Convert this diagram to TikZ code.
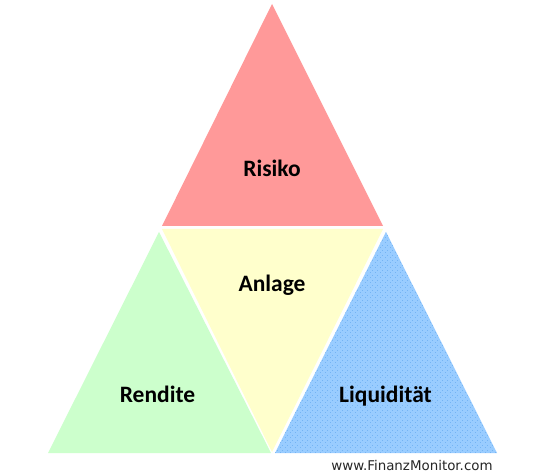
\documentclass[tikz,border=0pt]{standalone}
\usepackage{fontspec}
\setmainfont{Carlito}
\newfontfamily\wmfont{DejaVu Sans}
\usetikzlibrary{patterns.meta}
\definecolor{cred}{HTML}{FF9999}
\definecolor{cyel}{HTML}{FFFFCC}
\definecolor{cgrn}{HTML}{CCFFCC}
\definecolor{cblu}{HTML}{99CCFF}
\definecolor{cdot}{HTML}{74B4F4}
\tikzdeclarepattern{name=bluedots, type=uncolored,
  bottom left={(0pt,0pt)}, top right={(5pt,5pt)}, tile size={(5pt,5pt)},
  code={\fill (0pt,0pt) rectangle (1pt,1pt); \fill (2.5pt,2.5pt) rectangle (3.5pt,3.5pt);}}
\tikzset{
  lbl/.style={font=\fontsize{23.5}{26}\selectfont\bfseries, text=black, anchor=base, inner sep=0pt},
  wm/.style={font=\wmfont\fontsize{13.4}{15}\selectfont, text=black!85, anchor=base, inner sep=0pt}
}
\begin{document}
\begin{tikzpicture}[x=1pt,y=-1pt]
\useasboundingbox (0,0) rectangle (544,473);
\fill[white] (0,0) rectangle (544,473);
\fill[cred] (272,4) -- (383,226) -- (162,226) -- cycle;
\fill[cyel] (162,229) -- (383,229) -- (272,452) -- cycle;
\fill[cgrn] (48,453) -- (271,453) -- (159,232) -- cycle;
\fill[cblu] (275,453) -- (497,453) -- (386,232) -- cycle;
\fill[pattern={bluedots}, pattern color=cdot] (275,453) -- (497,453) -- (386,232) -- cycle;
\node[lbl] (risiko) at (272,176.7) {Risiko};
\node[lbl] (anlage) at (272,292) {Anlage};
\node[lbl] (rendite) at (157.5,402.7) {Rendite};
\node[lbl] (liq) at (385.5,402.7) {Liquidität};
\node[wm] (url) at (412,470.7) {www.FinanzMonitor.com};
\end{tikzpicture}
\end{document}
